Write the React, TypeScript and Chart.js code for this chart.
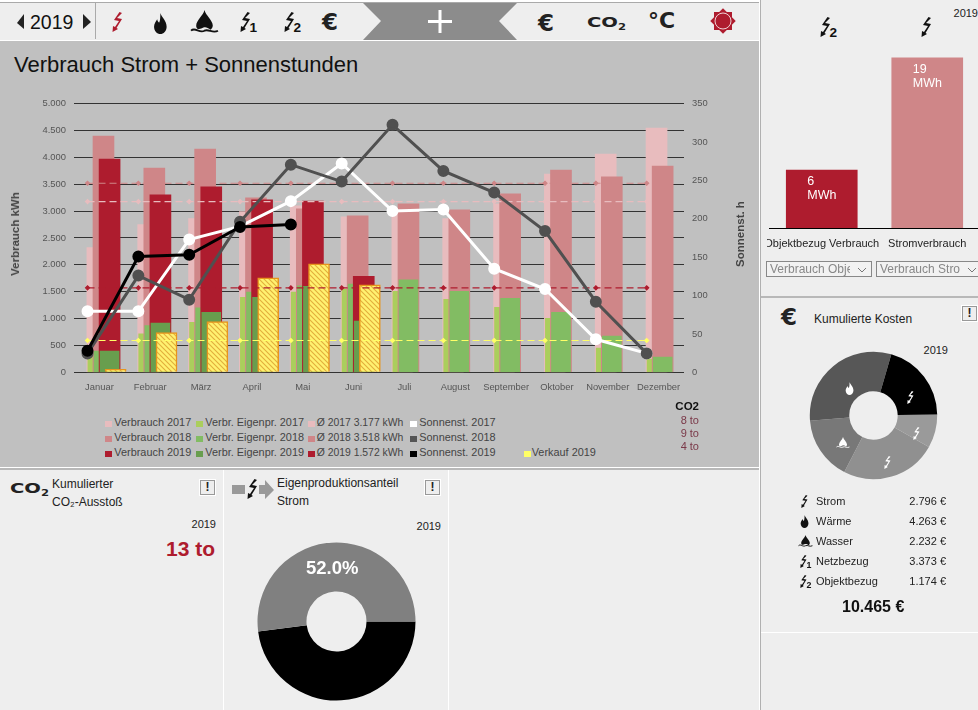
import { useEffect, useRef } from "react";
import { Chart, registerables } from "chart.js";

Chart.register(...registerables);

const FONT = "'Liberation Sans', Arial, sans-serif";

const months = ["Januar", "Februar", "März", "April", "Mai", "Juni", "Juli", "August", "September", "Oktober", "November", "Dezember"];

const verbrauch2017 = [2320, 2750, 2860, 2990, 3100, 2895, 2990, 2860, 3136, 3690, 4060, 4543];
const verbrauch2018 = [4395, 3802, 4154, 3247, 3043, 2914, 3136, 3025, 3321, 3765, 3636, 3840];
const verbrauch2019 = [3969, 3302, 3451, 3210, 3185, 1784];
const eigen2017 = [370, 716, 932, 1395, 1494, 1543, 1506, 1358, 1210, 1006, 451, 247];
const eigen2018 = [395, 870, 1198, 1494, 1611, 1642, 1722, 1506, 1377, 1117, 673, 284];
const eigen2019 = [395, 914, 1117, 1395, 1599, 951];
const verkauf2019 = [56, 741, 944, 1759, 2019, 1630];
const sonne2017 = [79.5, 79.5, 173, 190, 223, 272, 210, 212, 135, 108.5, 43, 24.6];
const sonne2018 = [24.6, 126, 94.6, 196, 270.5, 248.5, 322.4, 262.3, 234.2, 184, 92, 24.6];
const sonne2019 = [28, 150.8, 153, 189.3, 192.7];
const avg2017 = 3177;
const avg2018 = 3518;
const avg2019 = 1572;
const avgVerkauf = 592;

const vergleichLabels = ["Objektbezug Verbrauch", "Stromverbrauch"];
const vergleichWerte = [6.48, 19];
const vergleichText = ["6", "19"];

const kostenLabels = ["Strom", "Wärme", "Wasser", "Netzbezug", "Objektbezug"];
const kostenWerte = [2796, 4263, 2232, 3373, 1174];
const kostenText = ["2.796 €", "4.263 €", "2.232 €", "3.373 €", "1.174 €"];
const eigenAnteil = [48, 52];

const RED_17 = "#E8BCBE";
const RED_18 = "#CF8688";
const RED_19 = "#AE1C2E";
const GREEN_17 = "#ABCE5C";
const GREEN_18 = "#82BC63";
const GREEN_19 = "#689E4E";

const legendRows = [
  [[RED_17, "Verbrauch 2017"], [GREEN_17, "Verbr. Eigenpr. 2017"], [RED_17, "Ø 2017 3.177 kWh"], ["#fff", "Sonnenst. 2017"]],
  [[RED_18, "Verbrauch 2018"], [GREEN_18, "Verbr. Eigenpr. 2018"], [RED_18, "Ø 2018 3.518 kWh"], ["#555", "Sonnenst. 2018"]],
  [[RED_19, "Verbrauch 2019"], [GREEN_19, "Verbr. Eigenpr. 2019"], [RED_19, "Ø 2019 1.572 kWh"], ["#000", "Sonnenst. 2019"]],
];
const legendX = [105, 196, 308, 410];
const co2Rows = ["8 to", "9 to", "4 to"];

function hatch(): CanvasPattern | string {
  const tile = document.createElement("canvas");
  tile.width = 5;
  tile.height = 5;
  const c = tile.getContext("2d");
  if (!c) return "#FFF06A";
  c.fillStyle = "#FFF170";
  c.fillRect(0, 0, 5, 5);
  c.strokeStyle = "#E2AE3C";
  c.lineWidth = 1.1;
  c.beginPath();
  c.moveTo(-1, -1);
  c.lineTo(6, 6);
  c.moveTo(4, -1);
  c.lineTo(6, 1);
  c.moveTo(-1, 4);
  c.lineTo(1, 6);
  c.stroke();
  return c.createPattern(tile, "repeat") ?? "#FFF06A";
}

const bars = (values: number[], offset: number, color: any, width: number, extra = {}) => ({
  type: "bar" as const,
  data: values.map((y, i) => ({ x: i + offset, y })),
  backgroundColor: color,
  barThickness: width,
  grouped: false,
  xAxisID: "xp",
  yAxisID: "y",
  ...extra,
});

const LINE_SHIFT = -0.234;

const sunLine = (values: number[], color: string) => ({
  type: "line" as const,
  data: values.map((y, i) => ({ x: i + LINE_SHIFT, y })),
  borderColor: color,
  backgroundColor: color,
  borderWidth: 3,
  pointRadius: 4.5,
  tension: 0,
  xAxisID: "xp",
  yAxisID: "y1",
});

const avgLine = (value: number, color: string) => ({
  type: "line" as const,
  data: months.map((_, i) => ({ x: i + LINE_SHIFT, y: value })),
  borderColor: color,
  backgroundColor: color,
  borderWidth: 1.2,
  borderDash: [7, 4],
  pointStyle: "rectRot",
  pointRadius: 2,
  tension: 0,
  xAxisID: "xp",
  yAxisID: "y",
});

function MainChart() {
  const ref = useRef<HTMLCanvasElement | null>(null);
  useEffect(() => {
    if (!ref.current) return;
    const tickFont = { family: FONT, size: 9.4 };
    const chart = new Chart(ref.current, {
      type: "bar",
      data: {
        labels: months,
        // first dataset is painted on top
        datasets: [
          sunLine(sonne2019, "#000000"),
          sunLine(sonne2018, "#505050"),
          sunLine(sonne2017, "#FFFFFF"),
          avgLine(avgVerkauf, "#FFFF66"),
          avgLine(avg2019, RED_19),
          avgLine(avg2017, RED_17),
          avgLine(avg2018, RED_18),
          bars(verkauf2019, 0.32, hatch(), 21, { borderColor: "#E8941C", borderWidth: 1.5 }),
          bars(eigen2019, 0.2, GREEN_19, 19),
          bars(verbrauch2019, 0.2, RED_19, 21),
          bars(eigen2018, 0.08, GREEN_18, 19),
          bars(verbrauch2018, 0.08, RED_18, 21),
          bars(eigen2017, -0.04, GREEN_17, 19),
          bars(verbrauch2017, -0.04, RED_17, 21),
        ] as any,
      },
      options: {
        animation: false,
        responsive: false,
        devicePixelRatio: 1,
        layout: { padding: { top: 12.3, left: 0, right: 0, bottom: 0 } },
        plugins: { legend: { display: false }, tooltip: { enabled: false } },
        scales: {
          x: {
            grid: { display: false, drawTicks: false },
            border: { display: false },
            ticks: { font: tickFont, color: "#555", padding: 9, maxRotation: 0, autoSkip: false },
            afterFit: (s: any) => { s.height = 27.7; },
          },
          xp: { type: "linear", display: false, offset: false, min: -0.5, max: 11.5, grid: { offset: false } },
          y: {
            min: 0,
            max: 5000,
            grid: { color: "#333", lineWidth: 1, drawTicks: false },
            border: { display: false },
            ticks: {
              stepSize: 500,
              font: tickFont,
              color: "#555",
              padding: 8,
              callback: (v: any) => (v >= 1000 ? `${Math.floor(v / 1000)}.${String(v % 1000).padStart(3, "0")}` : `${v}`),
            },
            afterFit: (s: any) => { s.width = 74; },
          },
          y1: {
            position: "right",
            min: 0,
            max: 350,
            grid: { display: false, drawTicks: false },
            border: { display: false },
            ticks: { stepSize: 50, font: tickFont, color: "#555", padding: 8 },
            afterFit: (s: any) => { s.width = 76; },
          },
        },
      } as any,
    });
    return () => chart.destroy();
  }, []);
  return <canvas ref={ref} width={760} height={310} style={{ position: "absolute", left: 0, top: 90 }} />;
}

const barLabels = {
  id: "barLabels",
  afterDatasetsDraw(chart: any) {
    const { ctx } = chart;
    ctx.save();
    ctx.fillStyle = "#fff";
    ctx.font = `12.5px ${FONT}`;
    ctx.textBaseline = "middle";
    chart.getDatasetMeta(0).data.forEach((bar: any, i: number) => {
      const left = bar.x - 35.5 + 21;
      ctx.fillText(vergleichText[i], left, bar.y + 11.5);
      ctx.fillText("MWh", left, bar.y + 25.5);
    });
    ctx.restore();
  },
};

function VergleichChart() {
  const ref = useRef<HTMLCanvasElement | null>(null);
  useEffect(() => {
    if (!ref.current) return;
    const chart = new Chart(ref.current, {
      type: "bar",
      data: {
        labels: vergleichLabels,
        datasets: [{ data: vergleichWerte, backgroundColor: [RED_19, RED_18], barThickness: 71 }],
      },
      options: {
        animation: false,
        responsive: false,
        devicePixelRatio: 1,
        layout: { padding: { left: 2 } },
        plugins: { legend: { display: false }, tooltip: { enabled: false } },
        scales: {
          x: {
            grid: { display: false, drawTicks: false },
            border: { color: "#000" },
            ticks: { font: { family: FONT, size: 11 }, color: "#222", padding: 9, maxRotation: 0, autoSkip: false },
            afterFit: (s: any) => {
              s.height = 25;
              // keep the long first label from squeezing the plot; the canvas edge clips it
              s.paddingLeft = 0;
              s.paddingRight = 0;
            },
          },
          y: { display: false, min: 0, max: 20 },
        },
      } as any,
      plugins: [barLabels],
    });
    return () => chart.destroy();
  }, []);
  return <canvas ref={ref} width={213} height={204} style={{ position: "absolute", left: 767, top: 49 }} />;
}

function DonutChart({ values, colors, rotation, radius, left, top, size }: any) {
  const ref = useRef<HTMLCanvasElement | null>(null);
  useEffect(() => {
    if (!ref.current) return;
    const chart = new Chart(ref.current, {
      type: "doughnut",
      data: { datasets: [{ data: values, backgroundColor: colors, borderWidth: 0 }] },
      options: {
        animation: false,
        responsive: false,
        devicePixelRatio: 1,
        rotation,
        radius,
        cutout: "38%",
        plugins: { legend: { display: false }, tooltip: { enabled: false } },
      } as any,
    });
    return () => chart.destroy();
  }, []);
  return <canvas ref={ref} width={size} height={size} style={{ position: "absolute", left, top }} />;
}

function Bolt({ x, y, h = 20, color = "#111", sub }: any) {
  const w = (h * 11) / 20;
  return (
    <div style={{ position: "absolute", left: x - w / 2, top: y - h / 2, height: h }}>
      <svg width={w} height={h} viewBox="0 0 11 20" style={{ display: "block" }}>
        <path d="M7.5 0 L2 8 L7 9 L3 15 L1 14 L0.5 20 L6 17 L4.5 16 L10 7 L5 6 L10 1 Z" fill={color} />
      </svg>
      {sub ? (
        <span style={{ position: "absolute", left: w - 1, top: h * 0.42, font: `bold ${h * 0.68}px ${FONT}`, color }}>{sub}</span>
      ) : null}
    </div>
  );
}

function Flame({ x, y, h = 20, color = "#111" }: any) {
  const w = (h * 14) / 20;
  return (
    <svg width={w} height={h} viewBox="0 0 14 20" style={{ position: "absolute", left: x - w / 2, top: y - h / 2 }}>
      <path d="M7 0 C8 4 13 7 13 13 C13 17 10 20 7 20 C4 20 1 17 1 13 C1 10 3 8 4 6 C4.5 8 5 9 6 9 C7 7 7 3 7 0Z" fill={color} />
    </svg>
  );
}

function Water({ x, y, w = 26, color = "#111" }: any) {
  const h = (w * 24) / 28;
  return (
    <svg width={w} height={h} viewBox="0 0 28 24" style={{ position: "absolute", left: x - w / 2, top: y - h / 2 }}>
      <path d="M14 0 C15 5 22 10 22 15 C22 17 21 18 20 19 C17 17 15 16 13 17 C11 18 9 19 7 18 C6 17 6 16 6 15 C6 10 13 5 14 0Z" fill={color} />
      <path d="M1 20 C5 16 9 23 14 20 C18 18 22 23 27 20" fill="none" stroke={color} strokeWidth="1.8" />
    </svg>
  );
}

function Txt({ x, y, size = 12, bold, color = "#222", right, children, family = FONT }: any) {
  return (
    <div
      style={{
        position: "absolute",
        top: y - size,
        lineHeight: `${size * 2}px`,
        fontFamily: family,
        fontSize: size,
        fontWeight: bold ? "bold" : "normal",
        color,
        whiteSpace: "nowrap",
        ...(right ? { right: 978 - x, textAlign: "right" } : { left: x }),
      }}
    >
      {children}
    </div>
  );
}

function AxisTitle({ x, y, children }: any) {
  return (
    <div
      style={{
        position: "absolute",
        left: x,
        top: y,
        transform: "translate(-50%,-50%) rotate(-90deg)",
        font: `bold 11.5px ${FONT}`,
        color: "#444",
        whiteSpace: "nowrap",
      }}
    >
      {children}
    </div>
  );
}

function Info({ x, y }: any) {
  return (
    <div
      style={{
        position: "absolute",
        left: x,
        top: y,
        width: 13,
        height: 13,
        border: "1px solid #999",
        outline: "1px solid #fff",
        background: "#EEE",
        textAlign: "center",
        font: `bold 12px/13px ${FONT}`,
        color: "#222",
      }}
    >
      !
    </div>
  );
}

function Drop({ x, label }: any) {
  return (
    <div
      style={{
        position: "absolute",
        left: x,
        top: 261,
        width: 104,
        height: 14,
        border: "1px solid #888",
        background: "#F2F2F2",
        font: `12px/14px ${FONT}`,
        color: "#888",
        overflow: "hidden",
      }}
    >
      <span style={{ position: "absolute", left: 3, width: 80, overflow: "hidden", whiteSpace: "nowrap" }}>{label}</span>
      <svg width="10" height="6" style={{ position: "absolute", left: 90, top: 5 }}>
        <path d="M1 1 L5 5 L9 1" fill="none" stroke="#777" />
      </svg>
    </div>
  );
}

function Co2Icon({ x, y }: any) {
  return (
    <div style={{ position: "absolute", left: x, top: y - 10, height: 20, lineHeight: "20px", fontFamily: "'DejaVu Sans'", fontWeight: "bold", color: "#222", whiteSpace: "nowrap", transform: "scale(1.45,1)", transformOrigin: "left center" }}>
      <span style={{ fontSize: 13.5 }}>CO</span>
      <span style={{ fontSize: 8, position: "relative", top: 3 }}>2</span>
    </div>
  );
}

const Euro = ({ x, y, size = 23 }: any) => (
  <Txt x={x} y={y} size={size} bold color="#222" family="'DejaVu Sans'">€</Txt>
);

export default function App() {
  const kostenKreis = [...kostenWerte].reverse();
  return (
    <div style={{ position: "relative", width: 978, height: 710, overflow: "hidden", background: "#EEEEEE", fontFamily: FONT }}>
      <style>{"body{margin:0}"}</style>

      {/* top bar */}
      <div style={{ position: "absolute", left: 0, top: 0, width: 760, height: 2, background: "#fff" }} />
      <div style={{ position: "absolute", left: 0, top: 2, width: 760, height: 1, background: "#AAA" }} />
      <div style={{ position: "absolute", left: 0, top: 40, width: 760, height: 1, background: "#fff" }} />
      <svg width="760" height="40" style={{ position: "absolute", left: 0, top: 0 }}>
        <path d="M24 14 L17 23 L24 29 Z" fill="#222" />
        <path d="M83 14 L91 22 L83 29 Z" fill="#222" />
        <path d="M363 3 L517 3 L499 21 L517 40 L363 40 L381 21 Z" fill="#8C8C8C" />
        <path d="M428 21.5 H452 M440 10 V33" stroke="#fff" strokeWidth="3" />
      </svg>
      <div style={{ position: "absolute", left: 95, top: 3, width: 1, height: 36, background: "#AAA" }} />
      <Txt x={30} y={22} size={19.5} color="#111">2019</Txt>
      <Bolt x={117} y={22} h={20} color={RED_19} />
      <Flame x={160} y={23} h={21} />
      <Water x={204} y={22} w={29} />
      <Bolt x={245} y={22} h={20} sub="1" />
      <Bolt x={289} y={22} h={20} sub="2" />
      <Euro x={322} y={22} />
      <Euro x={538} y={23} />
      <Co2Icon x={587} y={22} />
      <Txt x={648} y={21} size={22} bold color="#222" family="'DejaVu Sans'">°C</Txt>
      <svg width="26" height="26" viewBox="0 0 26 26" style={{ position: "absolute", left: 710, top: 8 }}>
        <rect x="4" y="4" width="18" height="18" fill={RED_19} />
        <rect x="4" y="4" width="18" height="18" fill={RED_19} transform="rotate(45 13 13)" />
        <circle cx="13" cy="13" r="8" fill={RED_19} stroke="#fff" strokeWidth="0.8" />
      </svg>

      {/* main panel */}
      <div style={{ position: "absolute", left: 0, top: 41, width: 759, height: 426, background: "#C0C0C0" }} />
      <Txt x={14} y={65} size={22} color="#111">Verbrauch Strom + Sonnenstunden</Txt>
      <MainChart />
      <AxisTitle x={15} y={233.5}>Verbrauch kWh</AxisTitle>
      <AxisTitle x={740} y={234}>Sonnenst. h</AxisTitle>

      {legendRows.map((row, r) =>
        row.map(([color, label], c) => (
          <div key={`${r}-${c}`}>
            <div style={{ position: "absolute", left: legendX[c], top: 420.5 + r * 15, width: 6.5, height: 6.5, background: color }} />
            <Txt x={legendX[c] + (c === 2 ? 8.7 : 9.3)} y={423.3 + r * 15} size={c === 2 ? 10.4 : 10.9} color="#444">{label}</Txt>
          </div>
        ))
      )}
      <div style={{ position: "absolute", left: 524, top: 450.5, width: 6.5, height: 6.5, background: "#FFFF66" }} />
      <Txt x={531.7} y={453.3} size={10.9} color="#444">Verkauf 2019</Txt>

      <Txt x={699} y={406.5} size={11.5} bold right color="#111">CO2</Txt>
      {co2Rows.map((t, i) => (
        <Txt key={t} x={699} y={420 + i * 13} size={11} right color="#7A3848">{t}</Txt>
      ))}

      {/* frame lines */}
      <div style={{ position: "absolute", left: 0, top: 467, width: 760, height: 3, background: "#fff" }} />
      <div style={{ position: "absolute", left: 0, top: 468, width: 760, height: 2, background: "#B8B8B8" }} />
      <div style={{ position: "absolute", left: 223, top: 470, width: 1, height: 240, background: "#fff" }} />
      <div style={{ position: "absolute", left: 448, top: 470, width: 1, height: 240, background: "#fff" }} />
      <div style={{ position: "absolute", left: 759, top: 0, width: 2, height: 710, background: "#fff" }} />
      <div style={{ position: "absolute", left: 760, top: 0, width: 1, height: 710, background: "#B0B0B0" }} />
      <div style={{ position: "absolute", left: 761, top: 296, width: 217, height: 2, background: "#B8B8B8" }} />
      <div style={{ position: "absolute", left: 761, top: 632, width: 217, height: 1, background: "#fff" }} />

      {/* right top */}
      <Bolt x={825} y={27} h={20} sub="2" />
      <Bolt x={926} y={27} h={20} />
      <Txt x={978} y={13} size={11} right color="#222">2019</Txt>
      <VergleichChart />
      <Drop x={766} label="Verbrauch Objekt" />
      <Drop x={876} label="Verbrauch Strom" />

      {/* kosten */}
      <Euro x={781} y={317} />
      <Txt x={814} y={319} size={12} color="#222">Kumulierte Kosten</Txt>
      <Info x={962} y={306} />
      <Txt x={948} y={350} size={11} right color="#222">2019</Txt>
      <DonutChart
        values={kostenKreis}
        colors={["#9A9A9A", "#909090", "#787878", "#575757", "#000000"]}
        rotation={89}
        radius={63.7}
        left={808}
        top={350}
        size={131}
      />
      <Flame x={850} y={388} h={13} color="#fff" />
      <Bolt x={911} y={397} h={13} color="#fff" />
      <Bolt x={917} y={433} h={13} color="#fff" />
      <Bolt x={888} y={462} h={13} color="#fff" />
      <Water x={843} y={443} w={14} color="#fff" />

      <Bolt x={805} y={501} h={13} />
      <Flame x={805} y={521} h={13} />
      <Water x={805} y={541} w={15} />
      <Bolt x={804} y={561} h={13} sub="1" />
      <Bolt x={804} y={581} h={13} sub="2" />
      {kostenLabels.map((label, i) => (
        <div key={label}>
          <Txt x={816} y={501 + i * 20} size={11} color="#222">{label}</Txt>
          <Txt x={946} y={501 + i * 20} size={11} right color="#222">{kostenText[i]}</Txt>
        </div>
      ))}
      <Txt x={842} y={607} size={16} bold color="#111">10.465 €</Txt>

      {/* co2 panel */}
      <Co2Icon x={10} y={488} />
      <Txt x={52} y={484} size={12} color="#222">Kumulierter</Txt>
      <Txt x={52} y={502} size={12} color="#222">CO₂-Ausstoß</Txt>
      <Info x={200} y={480} />
      <Txt x={216} y={524} size={11} right color="#222">2019</Txt>
      <Txt x={215} y={549} size={21} bold right color={RED_19}>13 to</Txt>

      {/* eigenproduktion panel */}
      <svg width="44" height="24" style={{ position: "absolute", left: 231, top: 478 }}>
        <rect x="1" y="7" width="13" height="9" fill="#999" />
        <path d="M28 7 H34 V2 L43 12 L34 21 V16 H28 Z" fill="#999" />
      </svg>
      <Bolt x={252} y={489} h={20} />
      <Txt x={277} y={483} size={12} color="#222">Eigenproduktionsanteil</Txt>
      <Txt x={277} y={501} size={12} color="#222">Strom</Txt>
      <Info x={425} y={480} />
      <Txt x={441} y={526} size={11} right color="#222">2019</Txt>
      <DonutChart
        values={eigenAnteil}
        colors={["#000000", "#808080"]}
        rotation={90}
        radius={79}
        left={251}
        top={536}
        size={171}
      />
      <Txt x={306} y={567} size={18.5} bold color="#fff">52.0%</Txt>
    </div>
  );
}
